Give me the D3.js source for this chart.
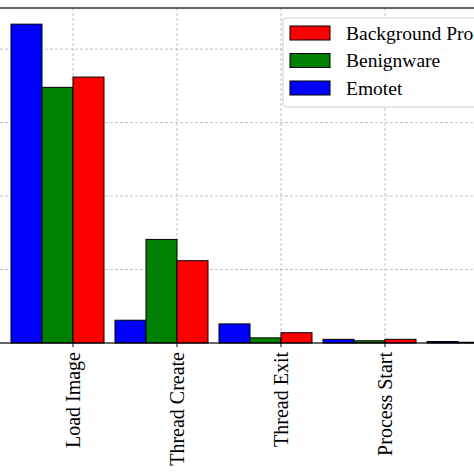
<!DOCTYPE html>
<html>
<head>
<meta charset="utf-8">
<script src="https://d3js.org/d3.v7.min.js"></script>
<style>
  body { margin: 0; background: #fff; }
  text { font-family: "Liberation Serif", "Times New Roman", serif; }
</style>
</head>
<body>
<div id="chart"></div>
<script>
// Data (values in grid units)
var categories = ["Load Image", "Thread Create", "Thread Exit", "Process Start", "Other"];
var series = ["Emotet", "Benignware", "Background Process"];
var emotet = [4.34, 0.31, 0.26, 0.05, 0.02];
var benign = [3.48, 1.41, 0.07, 0.03, 0.01];
var background = [3.62, 1.12, 0.14, 0.05, 0.02];
var colors = { "Emotet": "#0000ff", "Benignware": "#008000", "Background Process": "#ff0000" };

var svgWidth = 474, svgHeight = 474;
var margin = { top: 8, left: 21, bottom: 131 };
var bandStep = 104;
var chartWidth = bandStep * categories.length;
var chartHeight = svgHeight - margin.top - margin.bottom;

var svg = d3.select("#chart").append("svg")
  .attr("width", svgWidth).attr("height", svgHeight);

var g = svg.append("g")
  .attr("transform", `translate(${margin.left}, ${margin.top})`);

var x = d3.scaleBand().domain(categories).range([0, chartWidth]);
var xInner = d3.scaleBand().domain(series).range([-10, x.bandwidth() - 10 - 11]);
var y = d3.scaleLinear().domain([0, 4.56]).range([chartHeight, 0]);

// grid
g.append("g").selectAll("line").data([1, 2, 3, 4]).enter().append("line")
  .attr("x1", -margin.left).attr("x2", chartWidth)
  .attr("y1", d => y(d)).attr("y2", d => y(d))
  .attr("stroke", "#b0b0b0").attr("stroke-dasharray", "3,2").attr("stroke-width", 0.8);
g.append("g").selectAll("line").data(categories).enter().append("line")
  .attr("x1", d => x(d) + x.bandwidth() / 2).attr("x2", d => x(d) + x.bandwidth() / 2)
  .attr("y1", 0).attr("y2", chartHeight)
  .attr("stroke", "#b0b0b0").attr("stroke-dasharray", "3,2").attr("stroke-width", 0.8);

var rows = categories.map((c, i) => ({ cat: c, vals: [
  { s: "Emotet", v: emotet[i] }, { s: "Benignware", v: benign[i] }, { s: "Background Process", v: background[i] }] }));

g.selectAll(".grp").data(rows).enter().append("g")
  .attr("transform", d => `translate(${x(d.cat)},0)`)
  .selectAll("rect").data(d => d.vals).enter().append("rect")
  .attr("x", d => xInner(d.s)).attr("width", xInner.bandwidth())
  .attr("y", d => y(d.v)).attr("height", d => y(0) - y(d.v))
  .attr("fill", d => colors[d.s]).attr("stroke", "#000").attr("stroke-width", 1);

// frame
g.append("rect").attr("x", -margin.left - 5).attr("y", 0).attr("width", chartWidth + margin.left + 5).attr("height", chartHeight)
  .attr("fill", "none").attr("stroke", "#000").attr("stroke-width", 1.2);

var xAxis = g.append("g").attr("transform", `translate(0, ${chartHeight})`)
  .call(d3.axisBottom(x).tickSize(4).tickPadding(6));
xAxis.select(".domain").remove();
xAxis.selectAll("text")
  .attr("transform", "rotate(-90)").attr("text-anchor", "end")
  .attr("x", -9).attr("y", 0).attr("dy", "0.35em")
  .style("font-size", "20px").style("font-family", "Liberation Serif, serif");

// legend
var legend = svg.append("g").attr("transform", "translate(283,18)");
legend.append("rect").attr("width", 220).attr("height", 89).attr("rx", 3)
  .attr("fill", "#fff").attr("fill-opacity", 0.85).attr("stroke", "#d0d0d0");
["Background Process", "Benignware", "Emotet"].forEach(function(s, i) {
  legend.append("rect").attr("x", 7).attr("y", 8 + i * 27.5).attr("width", 40).attr("height", 14)
    .attr("fill", colors[s]).attr("stroke", "#000");
  legend.append("text").attr("x", 63).attr("y", 15 + i * 27.5).attr("dy", "0.35em")
    .style("font-size", "19.5px").text(s);
});
</script>
</body>
</html>
